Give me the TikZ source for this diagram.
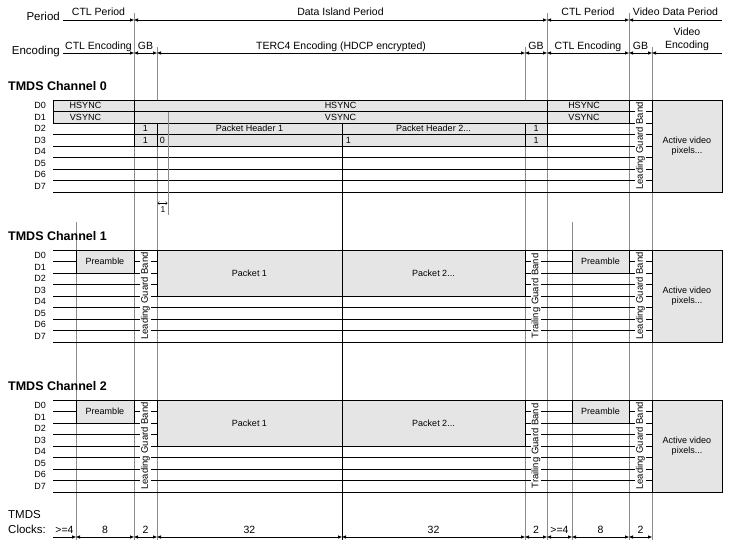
\documentclass[tikz,border=0pt]{standalone}
\usepackage{fontspec}
\setmainfont{Liberation Sans}
\usetikzlibrary{arrows.meta}

\begin{document}
\begin{tikzpicture}[
  x=1pt, y=-1pt,
  font=\fontsize{9}{10.5}\selectfont,
  sig/.style={line width=0.9pt},
  cell/.style={draw, line width=0.9pt, fill=black!10},
  guide/.style={draw=black!45, line width=0.7pt},
  band/.style={rotate=90, fill=white, inner sep=0.8pt,
               font=\fontsize{9.5}{11}\selectfont},
  dim/.style={line width=0.9pt,
              {Triangle[length=4pt,width=3pt]}-{Triangle[length=4pt,width=3pt]}},
  dimr/.style={line width=0.9pt, -{Triangle[length=4pt,width=3pt]}},
  diml/.style={line width=0.9pt, {Triangle[length=4pt,width=3pt]}-},
  dlab/.style={font=\fontsize{10.5}{13}\selectfont, anchor=base,
               yshift=4pt, inner sep=0pt},
  head/.style={font=\fontsize{11.5}{15}\selectfont, inner sep=0pt},
  chan/.style={font=\bfseries\fontsize{12.5}{14}\selectfont, anchor=base west,
               inner sep=0pt},
  bit/.style={anchor=east, inner sep=0pt}
]
\useasboundingbox (0,0) rectangle (732,546);

% grey period boundaries
\foreach \x in {134,547,629} \draw[guide] (\x,13) -- (\x,540);
\foreach \x in {157,525,652} \draw[guide] (\x,47) -- (\x,540);
\foreach \x in {76,572} \draw[guide] (\x,222) -- (\x,540);

% period and encoding rows
\node[head, anchor=base east] (per) at (60,20) {Period};
\node[head, anchor=base east] (enc) at (60,54) {Encoding};

\foreach \n/\x in {a/63,b/134,c/547,d/629,e/722}
  \coordinate (per\n) at (\x,20);
\draw[dimr] (pera) -- node[dlab] (pctl1) {CTL Period} (perb);
\draw[dim] (perb) -- node[dlab] (pdata) {Data Island Period} (perc);
\draw[dim] (perc) -- node[dlab] (pctl2) {CTL Period} (perd);
\draw[diml] (perd) -- node[dlab] (pvid) {Video Data Period} (pere);

\foreach \n/\x in {a/63,b/134,c/157,d/525,e/547,f/629,g/652,h/722}
  \coordinate (enc\n) at (\x,53);
\draw[dimr] (enca) -- node[dlab] (ectl1) {CTL Encoding} (encb);
\draw[dim] (encb) -- node[dlab] (egb1) {GB} (encc);
\draw[dim] (encc) -- node[dlab] (eterc) {TERC4 Encoding (HDCP encrypted)} (encd);
\draw[dim] (encd) -- node[dlab] (egb2) {GB} (ence);
\draw[dim] (ence) -- node[dlab] (ectl2) {CTL Encoding} (encf);
\draw[dim] (encf) -- node[dlab] (egb3) {GB} (encg);
\draw[diml] (encg) -- node[dlab, anchor=south, yshift=-2pt, align=center]
  (evid) {Video\\Encoding} (ench);

% channel 0
\node[chan] (ch0) at (8,90) {TMDS Channel 0};
\foreach \k in {0,...,7}
  \node[bit] (d0\k) at (46,105.75+11.5*\k) {D\k};
\foreach \k in {0,...,8}
  \draw[sig] (53,100+11.5*\k) -- (722,100+11.5*\k);

\draw[cell] (53,100) rectangle (134,111.5) node[midway, xshift=-8pt] (hsa) {HSYNC};
\draw[cell] (134,100) rectangle (547,111.5) node[midway] (hsb) {HSYNC};
\draw[cell] (547,100) rectangle (629,111.5) node[midway, xshift=-4pt] (hsc) {HSYNC};
\draw[cell] (53,111.5) rectangle (134,123) node[midway, xshift=-8pt] (vsa) {VSYNC};
\draw[cell] (134,111.5) rectangle (547,123) node[midway] (vsb) {VSYNC};
\draw[cell] (547,111.5) rectangle (629,123) node[midway, xshift=-4pt] (vsc) {VSYNC};

\draw[cell] (134,123) rectangle (157,134.5) node[midway] (ba) {1};
\draw[cell] (157,123) rectangle (342,134.5) node[midway] (ph1) {Packet Header 1};
\draw[cell] (342,123) rectangle (525,134.5) node[midway] (ph2) {Packet Header 2...};
\draw[cell] (525,123) rectangle (547,134.5) node[midway] (bb) {1};
\draw[cell] (134,134.5) rectangle (157,146) node[midway] (bc) {1};
\draw[cell] (157,134.5) rectangle (168,146) node[midway] (bd) {0};
\draw[cell] (168,134.5) rectangle (525,146) node[midway, xshift=2pt] (be) {1};
\draw[cell] (525,134.5) rectangle (547,146) node[midway] (bf) {1};

\draw[cell] (652,100) rectangle (722,192)
  node[midway, align=center] (av0) {Active video\\pixels...};
\node[band] (lgb0) at (640.5,146) {Leading Guard Band};

% one clock mark
\draw[guide] (168,111.5) -- (168,215);
\coordinate (wa) at (157.5,203);
\coordinate (wb) at (167.5,203);
\draw[line width=0.5pt,
  {Straight Barb[length=1.5pt,width=3pt]}-{Straight Barb[length=1.5pt,width=3pt]}]
  (wa) -- (wb);
\node[font=\fontsize{8.5}{9}\selectfont, inner sep=0pt] (wone) at (163,209.5) {1};

% packet split
\draw[sig] (342,134.5) -- (342,540);

% channels 1 and 2
\foreach \c/\yy in {1/250,2/400} {
  \node[chan] (ch\c) at (8,\yy-10) {TMDS Channel \c};
  \foreach \k in {0,...,7}
    \node[bit] (d\c\k) at (46,\yy+5.75+11.5*\k) {D\k};
  \foreach \k in {0,...,8}
    \draw[sig] (53,\yy+11.5*\k) -- (722,\yy+11.5*\k);
  \draw[cell] (76,\yy) rectangle (134,\yy+23) node[midway] (prea\c) {Preamble};
  \draw[cell] (157,\yy) rectangle (342,\yy+46) node[midway] (pka\c) {Packet 1};
  \draw[cell] (342,\yy) rectangle (525,\yy+46) node[midway] (pkb\c) {Packet 2...};
  \draw[cell] (572,\yy) rectangle (629,\yy+23) node[midway] (preb\c) {Preamble};
  \draw[cell] (652,\yy) rectangle (722,\yy+92)
    node[midway, align=center] (av\c) {Active video\\pixels...};
  \node[band] (lga\c) at (145.5,\yy+46) {Leading Guard Band};
  \node[band] (tg\c) at (536,\yy+46) {Trailing Guard Band};
  \node[band] (lgb\c) at (640.5,\yy+46) {Leading Guard Band};
}

% clock counts
\node[head, anchor=north west, align=left] (clk) at (8,510) {TMDS\\Clocks:};
\foreach \n/\x in {a/53,b/76,c/134,d/157,e/342,f/525,g/547,h/572,i/629,j/652}
  \coordinate (clk\n) at (\x,537);
\draw[dimr] (clka) -- node[dlab] (ka) {>=4} (clkb);
\draw[dim] (clkb) -- node[dlab] (kb) {8} (clkc);
\draw[dim] (clkc) -- node[dlab] (kc) {2} (clkd);
\draw[dim] (clkd) -- node[dlab] (kd) {32} (clke);
\draw[dim] (clke) -- node[dlab] (ke) {32} (clkf);
\draw[dim] (clkf) -- node[dlab] (kf) {2} (clkg);
\draw[dim] (clkg) -- node[dlab] (kg) {>=4} (clkh);
\draw[dim] (clkh) -- node[dlab] (kh) {8} (clki);
\draw[dim] (clki) -- node[dlab] (ki) {2} (clkj);
\end{tikzpicture}
\end{document}
